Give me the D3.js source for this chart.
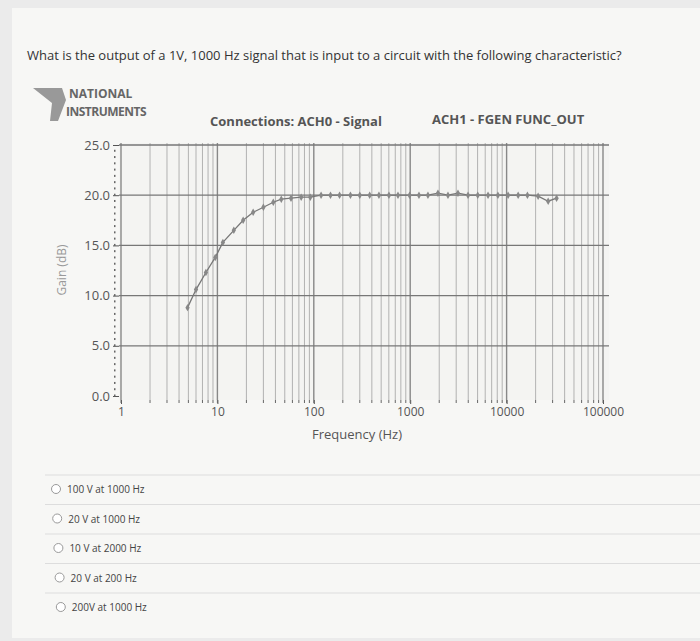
<!DOCTYPE html>
<html>
<head>
<meta charset="utf-8">
<script src="https://cdn.jsdelivr.net/npm/d3@7"></script>
<style>
body { margin: 0; background: #ebebeb; }
text { font-family: "Open Sans", "DejaVu Sans", sans-serif; }
</style>
</head>
<body>
<div id="vis"></div>
<script>
var width = 700,
    height = 641;

// frequency response
var freqs = [4.9, 6.0, 7.6, 9.5, 11.4, 14.8, 18.5, 23.5, 30, 38, 46, 58, 74, 92,
  119, 149, 185, 240, 300, 380, 474, 602, 747, 986, 1233, 1528, 1940, 2465, 3130,
  3980, 5020, 6420, 8130, 10370, 13180, 16440, 21230, 27000, 33000];
var gains = [8.8, 10.6, 12.3, 13.8, 15.3, 16.5, 17.5, 18.3, 18.8, 19.3, 19.6, 19.7, 19.8, 19.8,
  20.0, 20.0, 20.0, 20.0, 20.0, 20.0, 20.0, 20.0, 20.0, 20.0, 20.0, 20.0, 20.2, 20.0, 20.2,
  20.0, 20.0, 20.0, 20.0, 20.0, 20.0, 20.0, 19.9, 19.4, 19.7];
var yTicks = [0, 5, 10, 15, 20, 25];
var xTicks = [1, 10, 100, 1000, 10000, 100000];
var options = ["100 V at 1000 Hz", "20 V at 1000 Hz", "10 V at 2000 Hz", "20 V at 200 Hz", "200V at 1000 Hz"];

var svg = d3.select('#vis').append('svg')
    .attr("width", width)
    .attr("height", height);

svg.append("rect").attr("x", 12).attr("y", 8).attr("width", 688).attr("height", 630)
    .attr("fill", "#f7f7f5");

svg.append("text").attr("x", 27).attr("y", 60)
    .attr("font-size", 13).attr("fill", "#333")
    .text("What is the output of a 1V, 1000 Hz signal that is input to a circuit with the following characteristic?");

// logo
svg.append("path").attr("d", "M33,88 L62,88 L66,100 L58,121 L50,121 L52,103 Z").attr("fill", "#999");
svg.append("text").attr("x", 69).attr("y", 98).attr("font-size", 12).attr("font-weight", "bold")
    .attr("fill", "#666").text("NATIONAL");
svg.append("text").attr("x", 66).attr("y", 116).attr("font-size", 12).attr("font-weight", "bold")
    .attr("fill", "#666").attr("letter-spacing", -0.5).text("INSTRUMENTS");

svg.append("text").attr("x", 210).attr("y", 126).attr("font-size", 13).attr("font-weight", "bold")
    .attr("fill", "#555").text("Connections: ACH0 - Signal");
svg.append("text").attr("x", 432).attr("y", 124).attr("font-size", 13).attr("font-weight", "bold")
    .attr("fill", "#555").text("ACH1 - FGEN FUNC_OUT");

var x = d3.scaleLog().domain([1, 100000]).range([121, 603]);
var y = d3.scaleLinear().domain([0, 25]).range([396, 145]);

var plot = svg.append("g");
plot.append("rect").attr("x", 119).attr("y", 143).attr("width", 490).attr("height", 257)
    .attr("fill", "#f4f4f2");

// vertical grid (every decade minor)
var minor = [];
for (var e = 0; e < 5; e++) for (var k = 1; k < 10; k++) minor.push(k * Math.pow(10, e));
minor.push(100000);
plot.selectAll("line.vg").data(minor).enter().append("line")
    .attr("x1", function(d) { return x(d); }).attr("x2", function(d) { return x(d); })
    .attr("y1", 143).attr("y2", 400)
    .attr("stroke", function(d) { return xTicks.indexOf(d) >= 0 ? "#888" : "#aaa"; })
    .attr("stroke-width", function(d) { return xTicks.indexOf(d) >= 0 ? 1.4 : 0.9; });
plot.selectAll("line.hg").data(yTicks.slice(1)).enter().append("line")
    .attr("x1", 119).attr("x2", 609)
    .attr("y1", function(d) { return y(d); }).attr("y2", function(d) { return y(d); })
    .attr("stroke", "#777").attr("stroke-width", 1.3);

// y axis
var yAxis = d3.axisLeft(y).tickValues(yTicks).tickFormat(d3.format(".1f")).tickSize(6);
var ya = svg.append("g").attr("transform", "translate(119,0)").call(yAxis);
ya.select(".domain").remove();
ya.selectAll("text").attr("font-size", 13).attr("fill", "#555");
ya.selectAll("line").attr("stroke", "#555");
svg.append("g").selectAll("rect").data(d3.range(0, 25, 0.625)).enter().append("rect")
    .attr("x", 114).attr("y", function(d) { return y(d) - 1.5; })
    .attr("width", 1.5).attr("height", 2).attr("fill", "#666");

// x axis
var xAxis = d3.axisBottom(x).tickValues(xTicks).tickFormat(d3.format("d")).tickSize(4);
var xa = svg.append("g").attr("transform", "translate(0,400)").call(xAxis);
xa.select(".domain").remove();
xa.selectAll("text").attr("font-size", 12).attr("fill", "#555");
xa.selectAll("line").attr("stroke", "#555");
svg.append("g").selectAll("line").data(minor).enter().append("line")
    .attr("x1", function(d) { return x(d); }).attr("x2", function(d) { return x(d); })
    .attr("y1", 400).attr("y2", 403).attr("stroke", "#666");

svg.append("text").attr("x", 357).attr("y", 439).attr("text-anchor", "middle")
    .attr("font-size", 13).attr("fill", "#555").text("Frequency (Hz)");
svg.append("text").attr("transform", "translate(66,270) rotate(-90)").attr("text-anchor", "middle")
    .attr("font-size", 12).attr("fill", "#999").text("Gain (dB)");

// data line + markers
var pts = freqs.map(function(f, i) { return [f, gains[i]]; });
var line = d3.line().x(function(d) { return x(d[0]); }).y(function(d) { return y(d[1]); });
plot.append("path").attr("d", line(pts)).attr("fill", "none").attr("stroke", "#777").attr("stroke-width", 1.3);
plot.selectAll("path.pt").data(pts).enter().append("path")
    .attr("d", d3.symbol().type(d3.symbolDiamond).size(16))
    .attr("transform", function(d) { return "translate(" + x(d[0]) + "," + y(d[1]) + ")"; })
    .attr("fill", "#888");

// answer options
var og = svg.append("g");
options.forEach(function(o, i) {
    var yy = 489 + i * 29.5;
    og.append("line").attr("x1", 45).attr("x2", 700).attr("y1", yy - 14).attr("y2", yy - 14)
        .attr("stroke", "#ddd");
    og.append("circle").attr("cx", 56 + i * 1.2).attr("cy", yy).attr("r", 4.5)
        .attr("fill", "#fff").attr("stroke", "#999");
    og.append("text").attr("x", 67 + i * 1.2).attr("y", yy + 4).attr("font-size", 10)
        .attr("fill", "#444").text(o);
});
</script>
</body>
</html>
